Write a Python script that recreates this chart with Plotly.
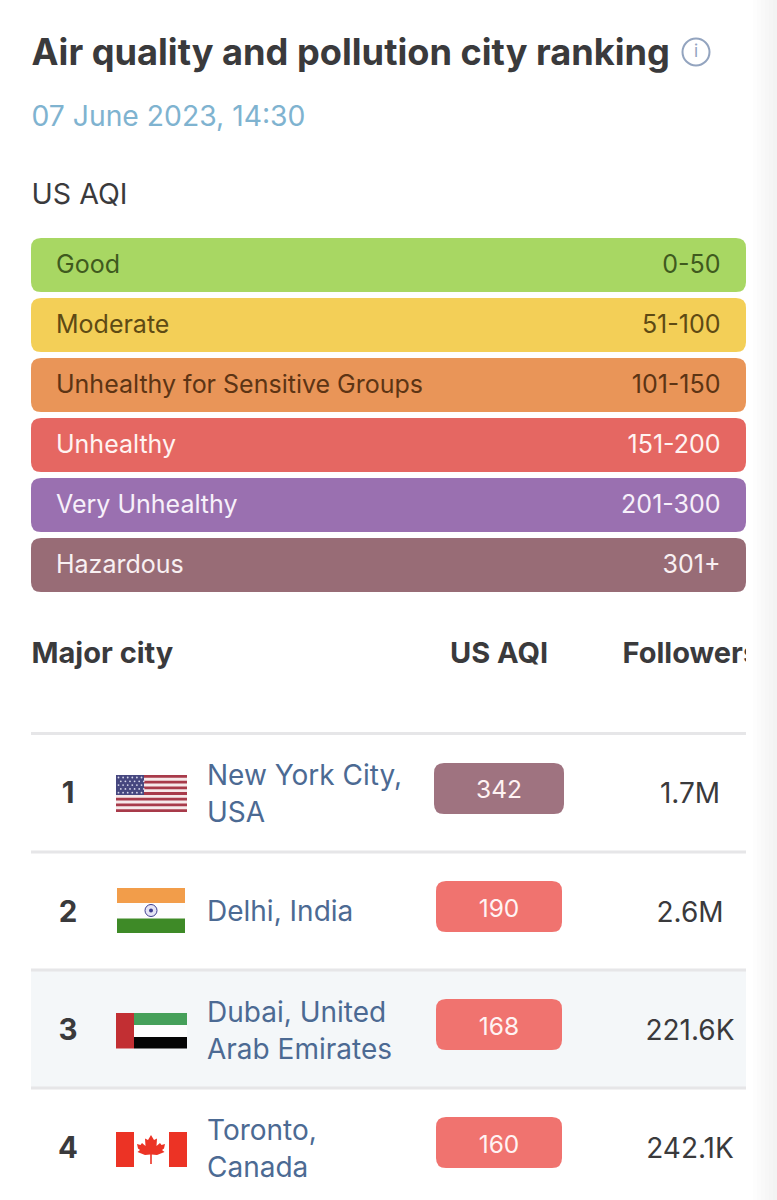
import plotly.graph_objects as go

# ---------- data ----------
title_text = "Air quality and pollution city ranking"
date_text = "07 June 2023, 14:30"
scale_title = "US AQI"
level_names = ["Good", "Moderate", "Unhealthy for Sensitive Groups", "Unhealthy", "Very Unhealthy", "Hazardous"]
level_ranges = ["0-50", "51-100", "101-150", "151-200", "201-300", "301+"]
table_headers = ["Major city", "US AQI", "Followers"]
ranks = ["1", "2", "3", "4"]
city_lines = [["New York City,", "USA"], ["Delhi, India"], ["Dubai, United", "Arab Emirates"], ["Toronto,", "Canada"]]
aqi_values = [342, 190, 168, 160]
followers = ["1.7M", "2.6M", "221.6K", "242.1K"]

# ---------- styles ----------
FONT = "Inter"
level_fill = ["#A8D763", "#F3CF57", "#E99558", "#E56762", "#9A70B0", "#986C76"]
level_ink = ["#3F5A1E", "#5E4A14", "#5C3414", "#FFF3F1", "#F7F0FA", "#F8F0F2"]
DARK = "#3A3A3C"
CITY = "#4C6A93"
shapes, traces = [], []


def rrect(x0, y0, x1, y1, r, fill, **kw):
    p = (f"M{x0+r},{y0} L{x1-r},{y0} Q{x1},{y0} {x1},{y0+r} L{x1},{y1-r} Q{x1},{y1} {x1-r},{y1} "
         f"L{x0+r},{y1} Q{x0},{y1} {x0},{y1-r} L{x0},{y0+r} Q{x0},{y0} {x0+r},{y0} Z")
    shapes.append(dict(type="path", path=p, fillcolor=fill, line=dict(width=0), layer="below", **kw))


def rect(x0, y0, x1, y1, fill, layer="below"):
    shapes.append(dict(type="rect", x0=x0, y0=y0, x1=x1, y1=y1, fillcolor=fill, line=dict(width=0), layer=layer))


def txt(x, y, s, size, color, pos="middle right", weight=400):
    traces.append(go.Scatter(x=[x], y=[y], text=[s], mode="text", textposition=pos, hoverinfo="skip",
                             textfont=dict(family=FONT, size=size, color=color, weight=weight), showlegend=False))


# header
txt(31.5, 56, title_text, 36.2, DARK, weight=700)
txt(31.5, 119, date_text, 28.3, "#7FB3D0")
txt(31.5, 197, scale_title, 28.6, DARK)
shapes.append(dict(type="circle", x0=682.5, y0=38.5, x1=709.5, y1=65.5, line=dict(color="#93A4BF", width=2),
                   fillcolor="rgba(0,0,0,0)", layer="below"))
txt(696, 53, "i", 17, "#93A4BF", pos="middle center")

# AQI scale
for i, (n, r) in enumerate(zip(level_names, level_ranges)):
    y0 = 238 + 60 * i
    rrect(31, y0, 746, y0 + 54, 10, level_fill[i])
    txt(56, y0 + 29, n, 25, level_ink[i])
    txt(720.5, y0 + 29, r, 25, level_ink[i], pos="middle left")

# table header
txt(31.5, 656, table_headers[0], 29, DARK, weight=700)
txt(499, 656, table_headers[1], 29, DARK, pos="middle center", weight=700)
txt(622.5, 656, table_headers[2], 29, DARK, weight=700)

# rows
row_mid = [792, 911, 1029, 1147]
rect(31, 971, 746, 1088, "#F4F7F9")
for y in [733.5, 852, 970, 1088]:
    rect(31, y - 1.5, 746, y + 1.5, "#E6E6E8")

badge_fill = ["#9F7380", "#F0736F", "#F0736F", "#F0736F"]
for i, m in enumerate(row_mid):
    txt(68, m + 4, ranks[i], 29.5, DARK, pos="middle center", weight=700)
    lines = city_lines[i]
    if len(lines) == 1:
        txt(207, m + 3, lines[0], 28, CITY)
    else:
        txt(207, m - 14, lines[0], 28, CITY)
        txt(207, m + 23, lines[1], 28, CITY)
    hw = 65 if i == 0 else 63
    top = m - 29 if i == 0 else m - 30
    rrect(499 - hw, top, 499 + hw, top + 51, 10, badge_fill[i])
    txt(499, m, str(aqi_values[i]), 24.5, "#FFF3F3", pos="middle center")
    txt(690, m + 4, followers[i], 28, DARK, pos="middle center")

# --- flags ---
# USA
stripe_red, stripe_white = "#A83A4A", "#F6E9EA"
rect(116, 775, 187, 812, stripe_white)
for k in range(7):
    y = 775 + k * 37 / 6.5
    rect(116, y, 187, y + 2.85, stripe_red)
rect(116, 775, 144, 795, "#46477F")
sx, sy = [], []
for row in range(5):
    for col in range(6):
        sx.append(118.5 + col * 4.6 + (2.3 if row % 2 else 0))
        sy.append(777.5 + row * 3.8)
traces.append(go.Scatter(x=sx, y=sy, mode="markers", hoverinfo="skip", showlegend=False,
                         marker=dict(size=1.8, color="#D7D8EC")))

# India
rect(117, 888, 185, 903, "#F29D4A")
rect(117, 903, 185, 918.5, "#FDFDFD")
rect(117, 918.5, 185, 933, "#3E8A27")
shapes.append(dict(type="circle", x0=145, y0=904.5, x1=157, y1=916.5, fillcolor="#E4E4F4",
                   line=dict(color="#3D3D8F", width=1), layer="below"))
shapes.append(dict(type="circle", x0=149, y0=908.5, x1=153, y1=912.5, fillcolor="#3D3D8F",
                   line=dict(width=0), layer="below"))

# UAE
rect(134, 1013, 187, 1025, "#46A05A")
rect(134, 1025, 187, 1037, "#FDFDFD")
rect(134, 1037, 187, 1048.5, "#050505")
rect(116, 1013, 134, 1048.5, "#C22F33")

# Canada
rect(116, 1132, 134, 1167, "#EC3325")
rect(169, 1132, 187, 1167, "#EC3325")
leaf_x = [151, 154, 157, 156.5, 160, 161.5, 165, 164, 162, 164.5, 157, 151.8, 151.8, 150.2, 150.2, 145, 137.5,
          140, 138, 137, 140.5, 142, 145.5, 145, 148]
leaf_y = [1135, 1140, 1138.5, 1146, 1143, 1145, 1144, 1148.5, 1150, 1152, 1155, 1154.5, 1164, 1164, 1154.5, 1155,
          1152, 1150, 1148.5, 1144, 1145, 1143, 1146, 1138.5, 1140]
shapes.append(dict(type="path", layer="below", fillcolor="#EC3325", line=dict(width=0),
                   path="M" + " L".join(f"{a},{b}" for a, b in zip(leaf_x, leaf_y)) + " Z"))

# clip the table at its right edge, then the soft page edge
rect(746, 610, 777, 1200, "#FFFFFF", layer="above")
edge = ["#FDFDFD", "#FBFBFB", "#F9F9F9", "#F7F7F7", "#F5F5F5", "#F3F3F3"]
for j, c in enumerate(edge):
    rect(753 + j * 4, 0, 757 + j * 4, 1200, c, layer="above")

fig = go.Figure(traces)
fig.update_layout(width=777, height=1200, margin=dict(l=0, r=0, t=0, b=0), paper_bgcolor="white",
                  plot_bgcolor="white", shapes=shapes, showlegend=False,
                  xaxis=dict(range=[0, 777], visible=False, fixedrange=True),
                  yaxis=dict(range=[1200, 0], visible=False, fixedrange=True))
fig.write_html("out.html", config=dict(displayModeBar=False),
               post_script="document.body.style.margin='0';")
